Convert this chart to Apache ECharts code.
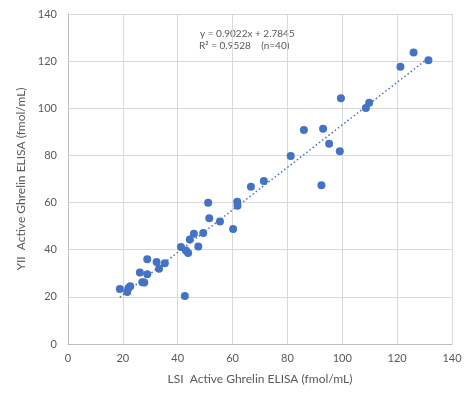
<!DOCTYPE html>
<html>
<head>
<meta charset="utf-8">
<script src="https://cdn.jsdelivr.net/npm/echarts@6/dist/echarts.min.js"></script>
<style>
html,body{margin:0;padding:0;background:#fff;}
#chart{width:474px;height:399px;}
</style>
</head>
<body>
<div id="chart"></div>
<script>
// LSI active ghrelin (x) values, fmol/mL
const lsiValues = [18.9, 21.6, 22.0, 22.7, 27.1, 27.8, 26.2, 28.9, 28.9, 32.3,
  33.2, 35.3, 41.2, 43.0, 43.8, 44.4, 45.9, 47.5, 49.3, 42.6,
  51.5, 55.4, 51.1, 60.2, 61.7, 61.8, 66.7, 71.4, 81.2, 86.0,
  93.0, 95.2, 99.1, 92.4, 99.5, 108.6, 109.8, 121.2, 126.0, 131.4];
// YII active ghrelin (y) values, fmol/mL
const yiiValues = [23.3, 22.1, 23.7, 24.5, 26.2, 26.1, 30.3, 29.6, 36.0, 34.8,
  31.9, 34.3, 41.1, 39.7, 38.6, 44.3, 46.8, 41.4, 47.1, 20.4,
  53.3, 52.0, 59.9, 48.8, 60.3, 58.7, 66.7, 69.2, 79.8, 90.8,
  91.3, 85.0, 81.8, 67.4, 104.3, 100.1, 102.4, 117.6, 123.7, 120.4];
// Linear trendline endpoints
const trendX = [18.9, 131.4];
const trendY = [19.8, 121.3];
const xTicks = [0, 20, 40, 60, 80, 100, 120, 140];
const yTicks = [0, 20, 40, 60, 80, 100, 120, 140];
const eqLine1 = 'y = 0.9022x + 2.7845';
const eqLine2 = 'R² = 0.9528    (n=40)';
const xTitle = 'LSI  Active Ghrelin ELISA (fmol/mL)';
const yTitle = 'YII  Active Ghrelin ELISA (fmol/mL)';

const points = lsiValues.map((x, i) => [x, yiiValues[i]]);
const trend = trendX.map((x, i) => [x, trendY[i]]);

const font = 'Lato, "Open Sans", sans-serif';
const chart = echarts.init(document.getElementById('chart'), null, {renderer: 'canvas'});
chart.setOption({
  animation: false,
  backgroundColor: '#fff',
  grid: {left: 68, right: 22, top: 14, bottom: 55, containLabel: false},
  xAxis: {
    type: 'value', min: xTicks[0], max: xTicks[xTicks.length - 1], interval: 20,
    name: xTitle, nameLocation: 'middle', nameGap: 29,
    nameTextStyle: {color: '#595959', fontSize: 12, fontFamily: font},
    axisLine: {show: true, lineStyle: {color: '#bfbfbf', width: 1}},
    axisTick: {show: false},
    axisLabel: {color: '#595959', fontSize: 11, fontFamily: font, margin: 9},
    splitLine: {show: true, lineStyle: {color: '#d9d9d9', width: 1}}
  },
  yAxis: {
    type: 'value', min: yTicks[0], max: yTicks[yTicks.length - 1], interval: 20,
    name: yTitle, nameLocation: 'middle', nameGap: 33,
    nameTextStyle: {color: '#595959', fontSize: 12, fontFamily: font},
    axisLine: {show: true, lineStyle: {color: '#bfbfbf', width: 1}},
    axisTick: {show: false},
    axisLabel: {color: '#595959', fontSize: 11, fontFamily: font, margin: 11},
    splitLine: {show: true, lineStyle: {color: '#d9d9d9', width: 1}}
  },
  series: [
    {
      type: 'line', data: trend, showSymbol: false, silent: true,
      lineStyle: {color: '#4472C4', width: 1.5, type: [1.5, 2.5]}, z: 1
    },
    {
      type: 'scatter', data: points, symbol: 'circle', symbolSize: 8,
      itemStyle: {color: '#4472C4', opacity: 1}, z: 2
    }
  ],
  graphic: [
    {type: 'text', left: 200, top: 29, style: {text: eqLine1, fill: '#595959', font: '10px ' + font}},
    {type: 'text', left: 199, top: 41, style: {text: eqLine2, fill: '#595959', font: '10px ' + font}}
  ]
});
</script>
</body>
</html>
